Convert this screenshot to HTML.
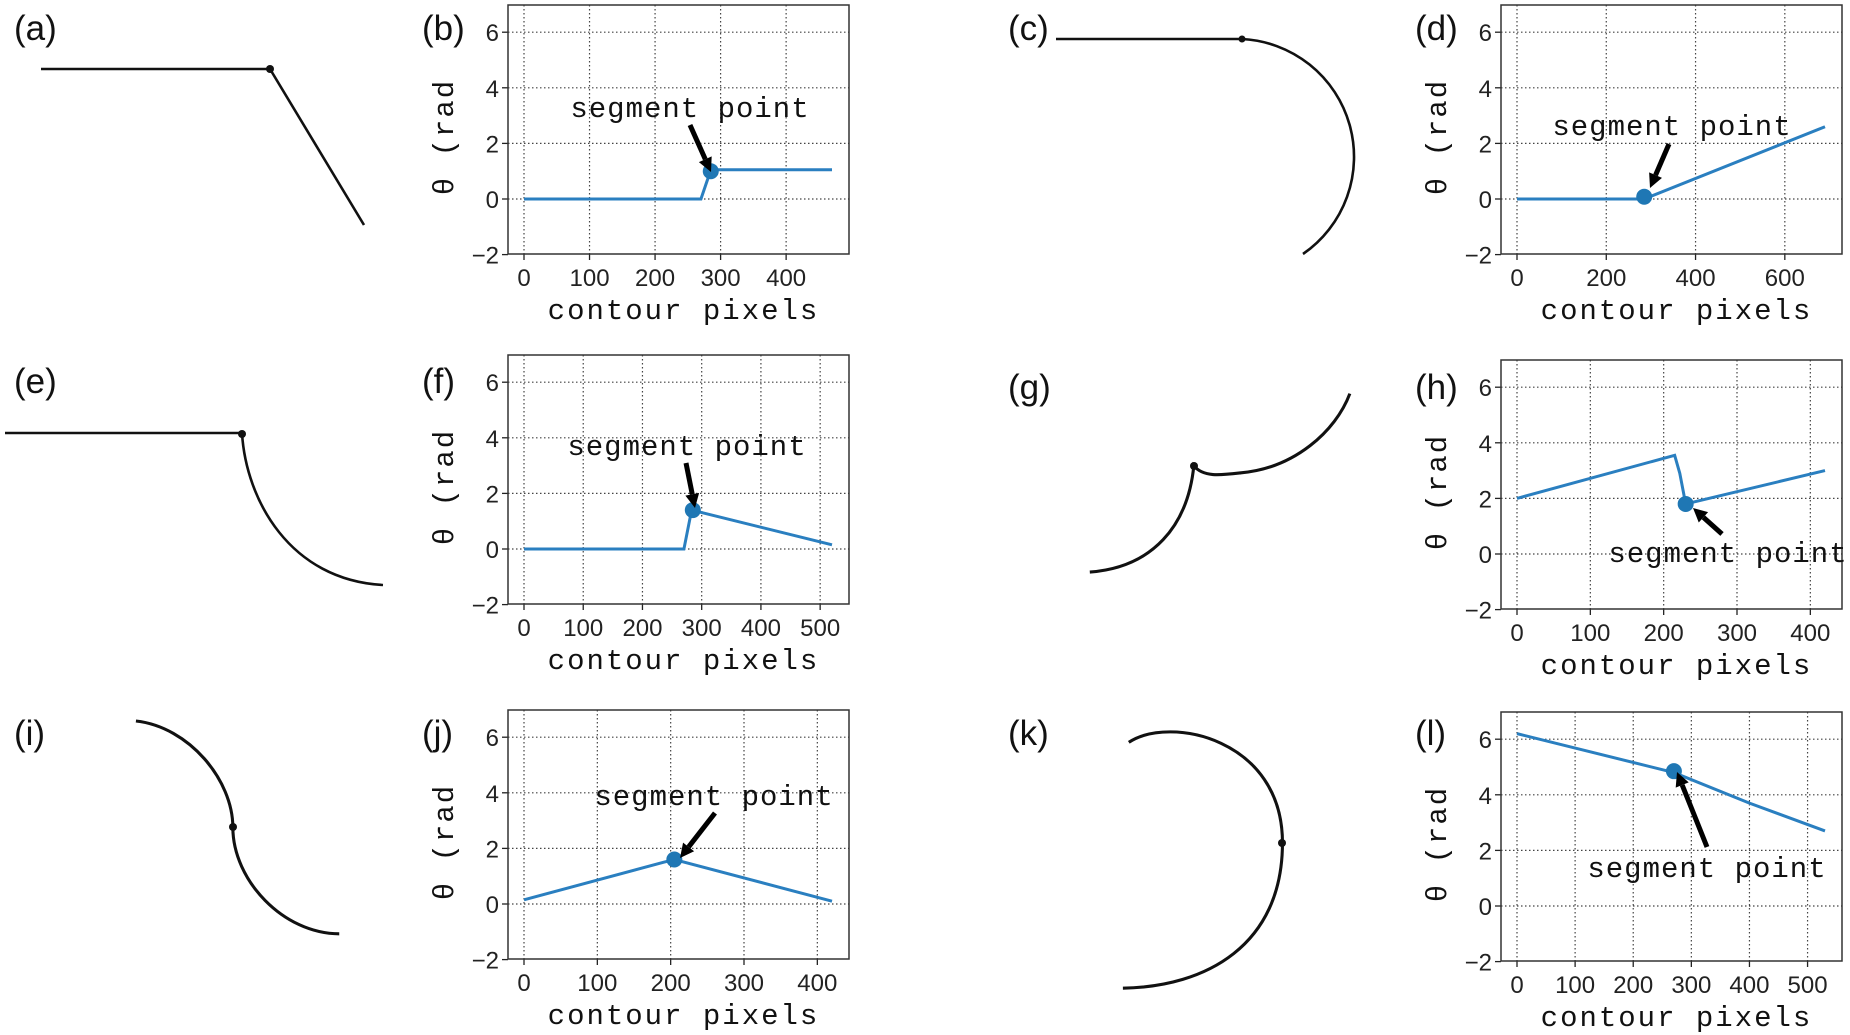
<!DOCTYPE html>
<html><head><meta charset="utf-8">
<style>
html,body{margin:0;padding:0;background:#fff;}
svg{display:block;}
.lab{font-family:"Liberation Sans",sans-serif;font-size:35px;fill:#111;}
.tk{font-family:"Liberation Sans",sans-serif;font-size:24px;fill:#222;}
.mono{font-family:"Liberation Mono",monospace;font-size:29px;fill:#111;}
</style></head>
<body>
<svg id="s" width="1850" height="1035" viewBox="0 0 1850 1035" xmlns="http://www.w3.org/2000/svg">
<g fill="none" stroke="#111" stroke-width="2.6">
<path d="M41,69 L270,69 L364,225"/>
<path d="M1056,39 L1242,39 A118,118 0 0 1 1303,254"/>
<path d="M5,433 L242,433 C246,500 290,580 383,585"/>
<g transform="scale(1.182)">
<path d="M922,484 C975,480 1005,445 1010,394 C1018,404 1033,402 1050,400 C1095,396 1130,365 1142,333"/>
<path d="M115,610 C160,615 197,660 197,700 C197,745 240,790 287,790"/>
<path d="M955,628 C990,605 1085,625 1085,713 C1085,800 1020,835 950,836"/>
</g>
</g>
<g fill="#111">
<circle cx="270" cy="69" r="4"/>
<circle cx="1242" cy="39" r="3.5"/>
<circle cx="242" cy="434" r="4"/>
<circle cx="1194" cy="466" r="4"/>
<circle cx="233" cy="827" r="4"/>
<circle cx="1282" cy="843" r="4"/>
</g>
<g class="lab">
<text x="14" y="40">(a)</text><text x="422" y="40">(b)</text><text x="1008" y="40">(c)</text><text x="1415" y="40">(d)</text>
<text x="14" y="393">(e)</text><text x="422" y="393">(f)</text><text x="1008" y="399">(g)</text><text x="1415" y="399">(h)</text>
<text x="14" y="745">(i)</text><text x="422" y="745">(j)</text><text x="1008" y="745">(k)</text><text x="1415" y="745">(l)</text>
</g>
<g id="charts"></g>
</svg>
<script>
var NS="http://www.w3.org/2000/svg";
var root=document.getElementById("charts");
function el(t,a,txt){var e=document.createElementNS(NS,t);for(var k in a)e.setAttribute(k,a[k]);if(txt!=null)e.textContent=txt;root.appendChild(e);return e;}
var charts=[
{L:508,T:5,xmax:470,ticks:[0,100,200,300,400],data:[[0,0],[270,0],[283,0.9],[295,1.05],[470,1.05]],dot:[285,1.0],tx:690,ty:117,a:[690,125,711,172]},
{L:1501,T:5,xmax:690,ticks:[0,200,400,600],data:[[0,0],[285,0],[690,2.6]],dot:[285,0.08],tx:1672,ty:135,a:[1669,144,1650,188]},
{L:508,T:355,xmax:520,ticks:[0,100,200,300,400,500],data:[[0,0],[270,0],[283,1.4],[520,0.15]],dot:[285,1.4],tx:687,ty:455,a:[686,463,695,508]},
{L:1501,T:360,xmax:420,ticks:[0,100,200,300,400],data:[[0,2.0],[215,3.55],[222,2.9],[230,1.8],[420,3.0]],dot:[230,1.8],tx:1728,ty:562,a:[1722,534,1693,508]},
{L:508,T:710,xmax:420,ticks:[0,100,200,300,400],data:[[0,0.15],[190,1.5],[205,1.6],[420,0.1]],dot:[205,1.6],tx:714,ty:805,a:[715,813,680,858]},
{L:1501,T:712,xmax:530,ticks:[0,100,200,300,400,500],data:[[0,6.2],[270,4.8],[400,3.7],[530,2.7]],dot:[270,4.85],tx:1707,ty:877,a:[1707,847,1677,772]}
];
charts.forEach(function(c){
 var L=c.L,T=c.T,R=L+341,B=T+249,x0=L+16,sx=308/c.xmax;
 function X(v){return x0+v*sx;} function Y(v){return T+194-v*27.8;}
 c.ticks.forEach(function(t){el("line",{x1:X(t),y1:T,x2:X(t),y2:B,stroke:"#444","stroke-width":1.2,"stroke-dasharray":"1.5,2.5"});
  el("line",{x1:X(t),y1:B,x2:X(t),y2:B+6,stroke:"#222","stroke-width":1.3});
  el("text",{x:X(t),y:B+32,"text-anchor":"middle","class":"tk"},String(t));});
 [-2,0,2,4,6].forEach(function(t){
  if(t>-2)el("line",{x1:L,y1:Y(t),x2:R,y2:Y(t),stroke:"#444","stroke-width":1.2,"stroke-dasharray":"1.5,2.5"});
  el("line",{x1:L-6,y1:Y(t),x2:L,y2:Y(t),stroke:"#222","stroke-width":1.3});
  el("text",{x:L-9,y:Y(t)+9,"text-anchor":"end","class":"tk"},(t<0?"\u2212":"")+Math.abs(t));});
 el("rect",{x:L,y:T,width:R-L,height:B-T,fill:"none",stroke:"#333","stroke-width":1.5});
 el("polyline",{points:c.data.map(function(p){return X(p[0])+","+Y(p[1]);}).join(" "),fill:"none",stroke:"#2a7fc0","stroke-width":3});
 el("circle",{cx:X(c.dot[0]),cy:Y(c.dot[1]),r:8,fill:"#1f77b4"});
 el("text",{x:c.tx,y:c.ty,"text-anchor":"middle","class":"mono","letter-spacing":"1"},"segment point");
 var a=c.a,dx=a[2]-a[0],dy=a[3]-a[1],len=Math.sqrt(dx*dx+dy*dy),ux=dx/len,uy=dy/len;
 var bx=a[2]-ux*14,by=a[3]-uy*14;
 el("line",{x1:a[0],y1:a[1],x2:bx,y2:by,stroke:"#000","stroke-width":5});
 el("polygon",{points:a[2]+","+a[3]+" "+(bx-uy*7)+","+(by+ux*7)+" "+(bx+uy*7)+","+(by-ux*7),fill:"#000"});
 el("text",{x:(L+R)/2+5,y:B+65,"text-anchor":"middle","class":"mono","letter-spacing":"2"},"contour pixels");
 var cy=T+132,cx=L-55;
 el("text",{x:cx,y:cy,"text-anchor":"middle","class":"mono","letter-spacing":"2",transform:"rotate(-90 "+cx+" "+cy+")"},"\u03b8 (rad");
});
</script>
</body></html>
